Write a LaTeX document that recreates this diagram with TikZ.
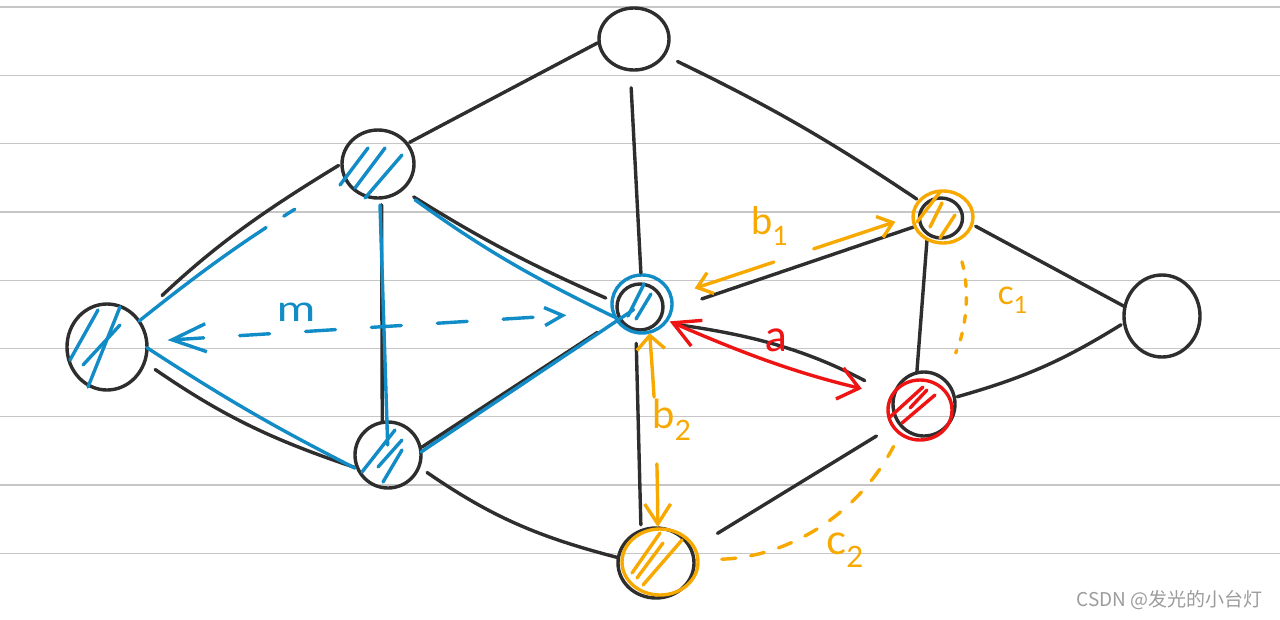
\documentclass[tikz,border=0pt]{standalone}
\usepackage{fontspec}
\setmainfont{Lato}
\newfontfamily\cjk{Noto Sans CJK SC}
\usetikzlibrary{shapes.geometric,arrows.meta,calc}
\definecolor{ink}{HTML}{2E2E2E}
\definecolor{bl}{HTML}{128CC6}
\definecolor{og}{HTML}{F8A900}
\definecolor{rd}{HTML}{EE1414}
\definecolor{rulec}{HTML}{C6C6C6}
\definecolor{wm}{HTML}{9C9C9C}
\begin{document}
\begin{tikzpicture}[x=1pt,y=-1pt,
  nd/.style={ellipse, draw=ink, line width=3.4pt, inner sep=0pt, outer sep=0pt},
  blk/.style={draw=ink, line width=3.4pt, line cap=round},
  blu/.style={draw=bl, line width=3.4pt, line cap=round},
  org/.style={draw=og, line width=3.4pt, line cap=round},
  rdl/.style={draw=rd, line width=3.4pt, line cap=round},
  rulel/.style={draw=rulec, line width=1.3pt},
  lbl/.style={inner sep=0pt}
]
\useasboundingbox (0,0) rectangle (1280,619);
\fill[white] (0,0) rectangle (1280,619);
% ruled paper
\foreach \yy in {7,75.3,143.6,211.9,280.2,348.5,416.8,485.1,553.4}
  \draw[rulel] (0,\yy) -- (1280,\yy);

% black inner circle of the centre node
\draw[ink, line width=3.4pt] (640,307) circle[radius=23];

% nodes
\node[nd, minimum width=80pt, minimum height=86pt] (A) at (107,347) {};
\node[nd, minimum width=72pt, minimum height=68pt] (B) at (378,164) {};
\node[nd, minimum width=66pt, minimum height=66pt] (C) at (388,455) {};
\node[nd, minimum width=70pt, minimum height=62pt] (D) at (634,39) {};
\node[nd, draw=bl, minimum width=60pt, minimum height=58pt] (E) at (642,304) {};
\node[nd, minimum width=76pt, minimum height=70pt] (F) at (656,563) {};
\node[nd, minimum width=43pt, minimum height=40pt] (G) at (941,218) {};
\node[nd, minimum width=62pt, minimum height=64pt] (H) at (924,404) {};
\node[nd, minimum width=76pt, minimum height=82pt] (I) at (1162,316) {};

% black edges
\draw[blk,shorten <=34pt,shorten >=4pt] (A.43) to[bend left=6] (B.179);
\draw[blk,shorten <=13pt,shorten >=3pt] (A.-22) to[bend right=8] (C.204);
\draw[blk,shorten <=7pt] (B.-84) -- (C.100);
\draw[blk,shorten <=3pt,shorten >=2pt] (B.35) -- (D.185);
\draw[blk,shorten <=14pt,shorten >=7pt] (B.-47) to[bend right=4] (E.174);
\draw[blk,shorten <=2pt,shorten >=23pt] (C.12) -- (E.212);
\draw[blk,shorten <=10pt] (C.-21) to[bend right=10] (F.172);
\draw[blk,shorten <=18pt,shorten >=2pt] (D.-97) -- (E.92);
\draw[blk,shorten <=15pt,shorten >=10pt] (D.-28) to[bend left=4] (G.140);
\draw[blk,shorten <=32pt,shorten >=8pt] (E.-10) -- (G.198);
\draw[blk,shorten <=11pt,shorten >=33pt] (E.-40) to[bend left=10] (H.165);
\draw[blk,shorten <=11pt,shorten >=6pt] (E.-102) -- (F.115);
\draw[blk,shorten <=7pt] (G.229) -- (H.103);
\draw[blk,shorten <=15pt] (G.-3) -- (I.166);
\draw[blk,shorten <=3pt,shorten >=4pt] (H.12) to[bend right=8] (I.190);
\draw[blk,shorten <=31pt,shorten >=26pt] (F.21) -- (H.216);

% blue overlay
\draw[blu, dash pattern=on 158pt off 21pt on 13pt off 300pt] (A.39) to[bend left=4] (B.204);
\draw[blu,shorten >=4pt] (A.-1) to[bend right=3] (C.207);
\draw[blu,shorten <=7pt,shorten >=10pt] (B.-87) -- (C.center);
\draw[blu,shorten <=17pt] (B.-48) to[bend right=5] (E.207);
\draw[blu,shorten >=10pt] (C.5) -- (E.center);
\draw[blu, dash pattern=on 30pt off 36pt,
  {Straight Barb[length=34pt,width=28pt]}-{Straight Barb[length=18pt,width=18pt]},
  shorten <=21pt, shorten >=47pt] (A.8) -- (E.196);

% hatching
\begin{scope}[shift={(A)}, blu]
  \draw (-37,13) -- (-9,-37); \draw (-24,18) -- (13,-22); \draw (-19,40) -- (13,-40);
\end{scope}
\begin{scope}[shift={(B)}, blu]
  \draw (-38,21) -- (-10,-16); \draw (-23,24) -- (7,-16); \draw (-13,34) -- (24,-9);
\end{scope}
\begin{scope}[shift={(C)}, blu]
  \draw (-26,17) -- (7,-25); \draw (-10,12) -- (14,-15); \draw (-5,27) -- (14,-5);
\end{scope}
\begin{scope}[shift={(E)}, blu]
  \draw (-14,12) -- (2,-20); \draw (-6,15) -- (9,-10);
\end{scope}
\begin{scope}[shift={(F)}, org]
  \draw (-24,10) -- (4,-30); \draw (-19,15) -- (7,-20); \draw (-13,22) -- (26,-23);
\end{scope}
\begin{scope}[shift={(G)}, org]
  \draw (-24,4) -- (-1,-26); \draw (-11,9) -- (1,-15); \draw (-1,20) -- (14,-3);
\end{scope}
\begin{scope}[shift={(H)}, rdl]
  \draw (-34,13) -- (-1,-17); \draw (-22,19) -- (11,-9); \draw (-14,4) -- (3,-14);
\end{scope}

% highlight rings
\draw[org] ($(G)+(2,-1)$) ellipse[x radius=30, y radius=26];
\draw[org] ($(F)+(4,-1)$) ellipse[x radius=38, y radius=33];
\draw[rdl] ($(H)+(-4,6)$) ellipse[x radius=32, y radius=30];

% orange and red connectors
\draw[org, dash pattern=on 79pt off 42pt on 300pt,
  {Straight Barb[length=14pt,width=22pt]}-{Straight Barb[length=14pt,width=22pt]},
  shorten <=25pt, shorten >=26pt] (E.15) -- (G.168);
\draw[org, dash pattern=on 60pt off 67pt on 300pt,
  {Straight Barb[length=14pt,width=28pt]}-{Straight Barb[length=20pt,width=26pt]},
  shorten <=1pt, shorten >=1pt] (E.-75) to[bend left=2] (F.87);
\draw[rdl,
  {Straight Barb[length=26pt,width=28pt]}-{Straight Barb[length=20pt,width=32pt]},
  shorten <=3pt, shorten >=33pt] (E.-33) to[bend right=5] (H.166);
\draw[org, dash pattern=on 7pt off 11pt, shorten <=29pt, shorten >=29pt] (G.-51) to[bend left=20] (H.51);
\draw[org, dash pattern=on 14pt off 15pt, shorten <=28pt, shorten >=21pt] (F.4) to[bend right=30] (H.229);

% labels
\node[lbl, text=bl, font=\fontsize{36}{36}\selectfont, xscale=1.3] (lm) at (296,312) {m};
\node[lbl, text=og, font=\fontsize{38}{38}\selectfont] (lb1) at (770,226) {b\textsubscript{1}};
\node[lbl, text=og, font=\fontsize{40}{40}\selectfont] (lb2) at (672,420) {b\textsubscript{2}};
\node[lbl, text=rd, font=\fontsize{44}{44}\selectfont] (la) at (776,340) {a};
\node[lbl, text=og, font=\fontsize{34}{34}\selectfont] (lc1) at (1013,300) {c\textsubscript{1}};
\node[lbl, text=og, font=\fontsize{42}{42}\selectfont] (lc2) at (845,550) {c\textsubscript{2}};

% watermark
\node[anchor=east, inner sep=0pt, text=wm, font=\cjk\fontsize{19}{19}\selectfont] (wmk) at (1263,600) {CSDN @发光的小台灯};
\end{tikzpicture}
\end{document}
